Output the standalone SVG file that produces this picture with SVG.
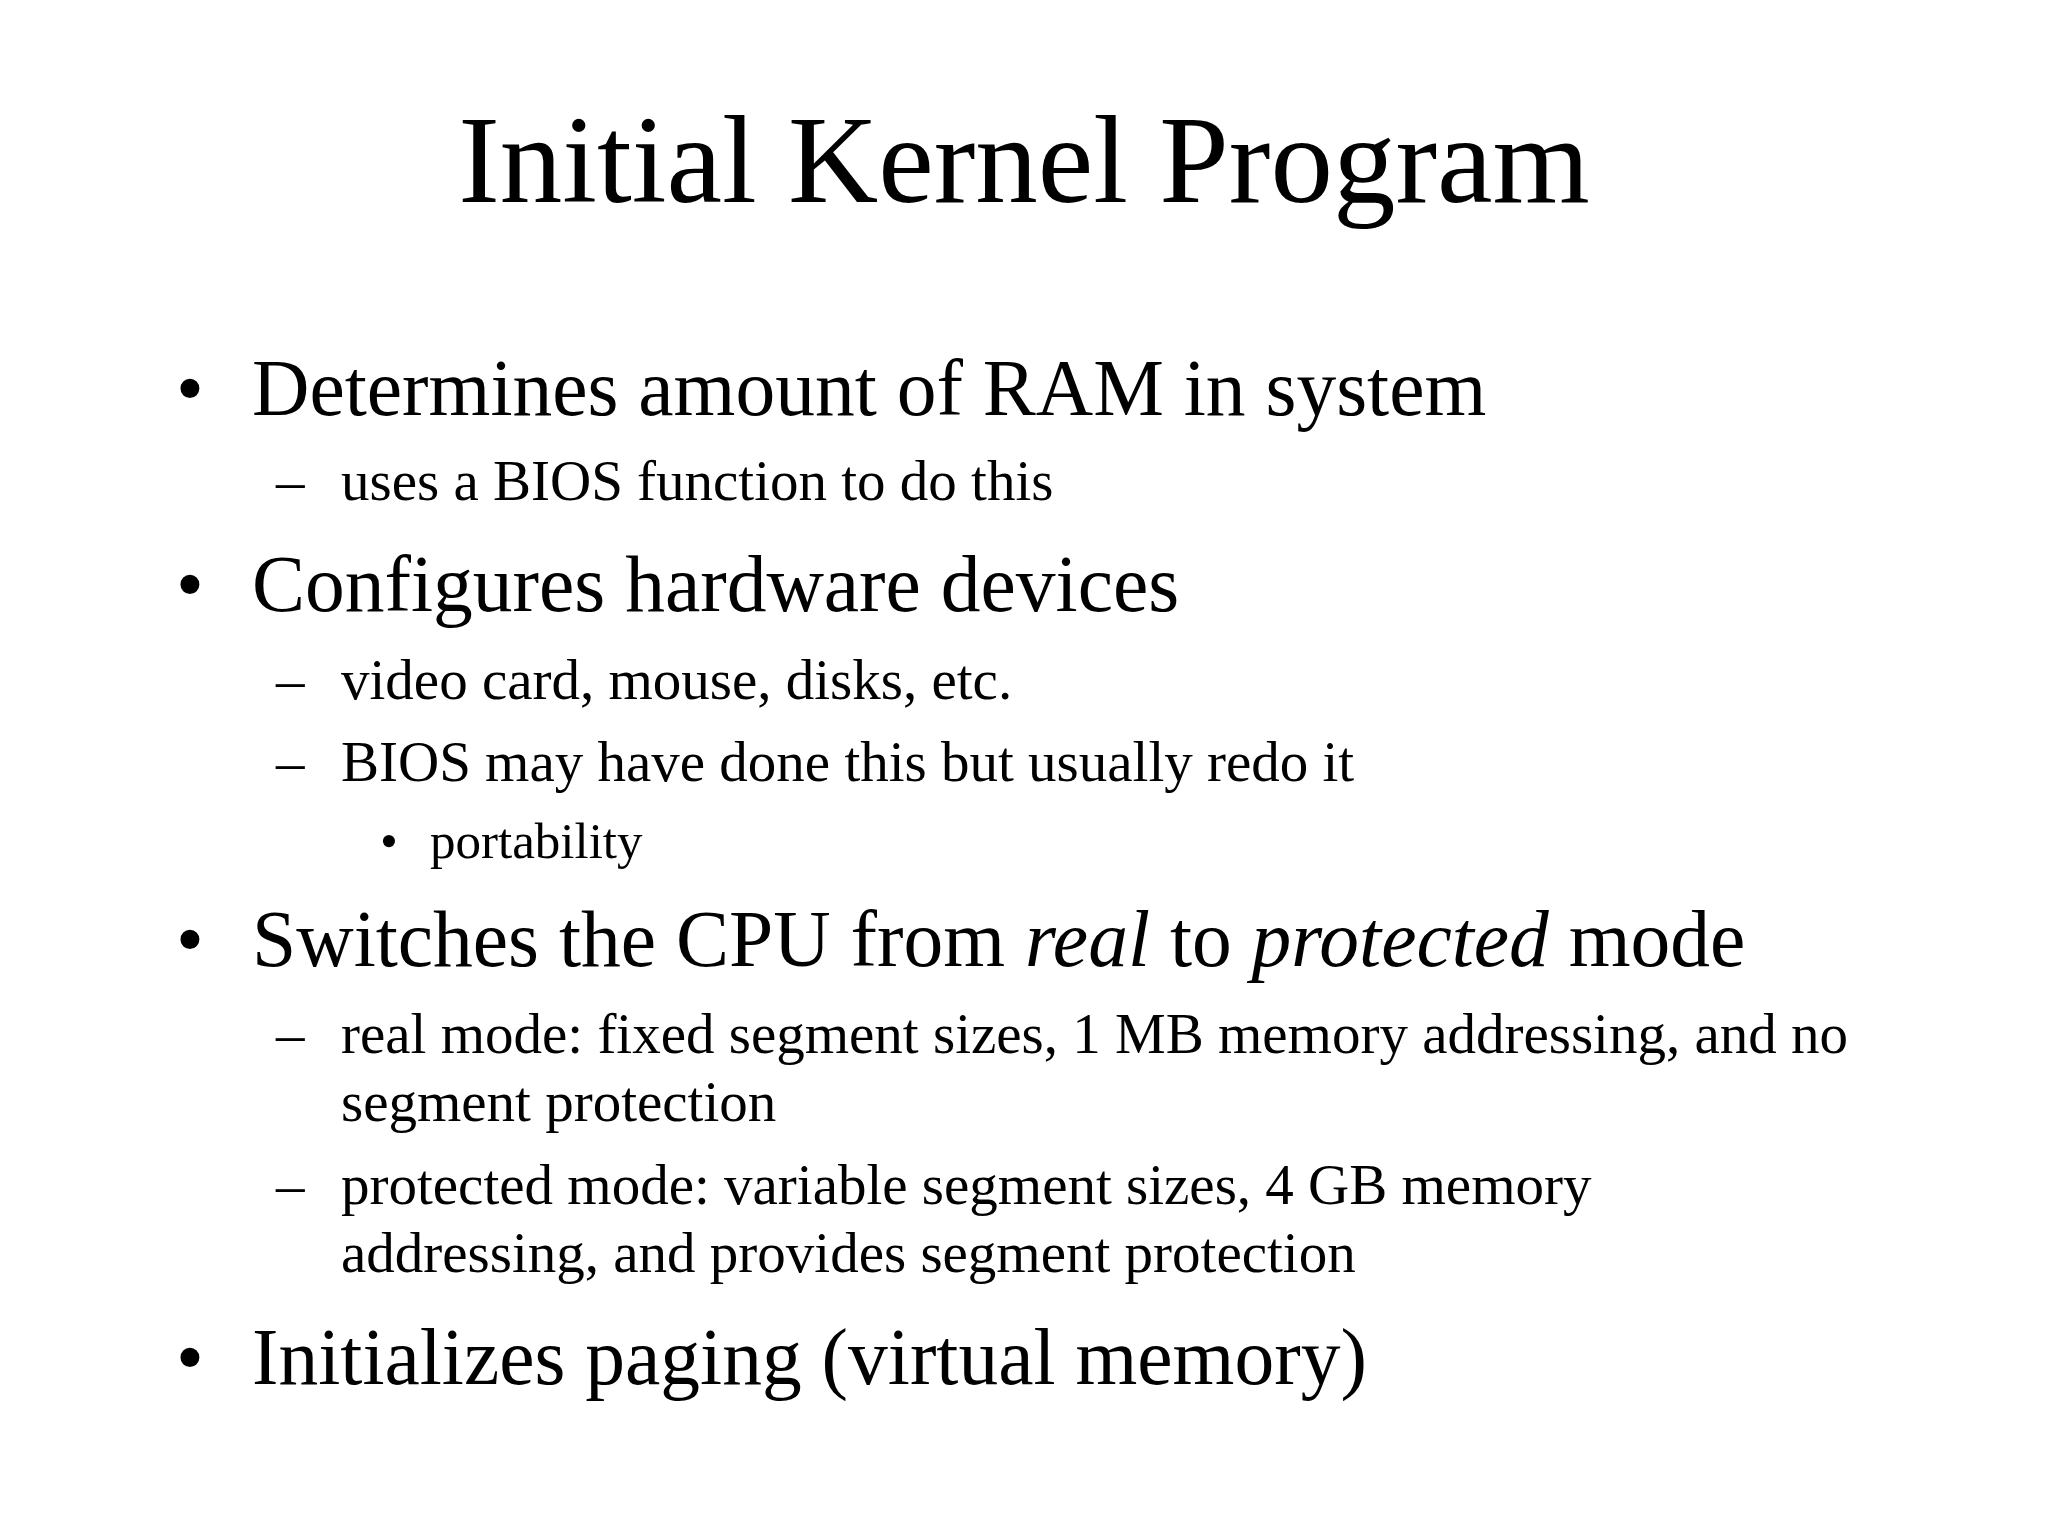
<svg xmlns="http://www.w3.org/2000/svg" width="2048" height="1536" viewBox="0 0 2048 1536">
<style>
text{font-family:"Liberation Serif","Times New Roman",serif;fill:#000}
.t{font-size:125px}
.l1{font-size:79.5px}
.l2{font-size:57px}
.l3{font-size:51px}
</style>
<rect width="2048" height="1536" fill="#fff"/>
<text class="t" x="1024" y="202" text-anchor="middle">Initial Kernel Program</text>
<g id="b1"><text class="l1" x="176" y="415">•</text><text class="l1" x="252" y="415">Determines amount of RAM in system</text></g>
<g id="b1a"><text class="l2" x="276" y="500">–</text><text class="l2" x="341" y="500">uses a BIOS function to do this</text></g>
<g id="b2"><text class="l1" x="176" y="611">•</text><text class="l1" x="252" y="611">Configures hardware devices</text></g>
<g id="b2a"><text class="l2" x="276" y="699">–</text><text class="l2" x="341" y="699">video card, mouse, disks, etc.</text></g>
<g id="b2b"><text class="l2" x="276" y="781">–</text><text class="l2" x="341" y="781">BIOS may have done this but usually redo it</text></g>
<g id="b2b1"><text class="l3" x="380" y="858">•</text><text class="l3" x="430" y="858">portability</text></g>
<g id="b3"><text class="l1" x="176" y="966">•</text><text class="l1" x="252" y="966">Switches the CPU from <tspan font-style="italic">real</tspan> to <tspan font-style="italic">protected</tspan> mode</text></g>
<g id="b3a"><text class="l2" x="276" y="1053">–</text><text class="l2" x="341" y="1053">real mode: fixed segment sizes, 1 MB memory addressing, and no</text><text class="l2" x="341" y="1121">segment protection</text></g>
<g id="b3b"><text class="l2" x="276" y="1204">–</text><text class="l2" x="341" y="1204">protected mode: variable segment sizes, 4 GB memory</text><text class="l2" x="341" y="1272">addressing, and provides segment protection</text></g>
<g id="b4"><text class="l1" x="176" y="1384">•</text><text class="l1" x="252" y="1384">Initializes paging (virtual memory)</text></g>
<g id="connectors"/>
</svg>
